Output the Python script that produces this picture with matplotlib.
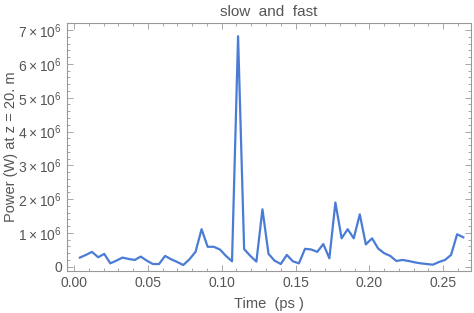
import numpy as np
import matplotlib
matplotlib.use("Agg")
import matplotlib.pyplot as plt
from matplotlib.ticker import MultipleLocator, FuncFormatter

# sampled pulse power at z = 20 m
time_ps = [0.0040, 0.0081, 0.0122, 0.0164, 0.0205, 0.0246, 0.0287, 0.0328,
           0.0370, 0.0411, 0.0452, 0.0493, 0.0534, 0.0576, 0.0617, 0.0658,
           0.0699, 0.0740, 0.0782, 0.0823, 0.0864, 0.0905, 0.0946, 0.0988,
           0.1029, 0.1070, 0.1111, 0.1152, 0.1194, 0.1235, 0.1276, 0.1317,
           0.1358, 0.1400, 0.1441, 0.1482, 0.1523, 0.1564, 0.1606, 0.1647,
           0.1688, 0.1729, 0.1770, 0.1812, 0.1853, 0.1894, 0.1935, 0.1976,
           0.2018, 0.2059, 0.2100, 0.2141, 0.2182, 0.2224, 0.2265, 0.2306,
           0.2347, 0.2388, 0.2430, 0.2471, 0.2512, 0.2553, 0.2594, 0.2636]

power_MW = [0.27, 0.35, 0.44, 0.28, 0.38, 0.10, 0.18, 0.27,
            0.23, 0.20, 0.30, 0.18, 0.08, 0.08, 0.32, 0.22,
            0.14, 0.05, 0.22, 0.44, 1.11, 0.59, 0.59, 0.51,
            0.32, 0.16, 6.82, 0.52, 0.32, 0.15, 1.70, 0.38,
            0.18, 0.08, 0.35, 0.16, 0.10, 0.53, 0.51, 0.44,
            0.67, 0.25, 1.90, 0.84, 1.11, 0.84, 1.55, 0.66,
            0.84, 0.54, 0.40, 0.32, 0.17, 0.20, 0.17, 0.13,
            0.10, 0.08, 0.06, 0.14, 0.20, 0.35, 0.96, 0.87]

power_W = np.array(power_MW) * 1e6

plt.rcParams['font.family'] = ['Liberation Sans', 'DejaVu Sans']
plt.rcParams['mathtext.default'] = 'regular'

grey = '#555555'
frame = '#999999'

fig = plt.figure(figsize=(4.74, 3.13), dpi=100)
ax = fig.add_axes([0.1414, 0.1351, 0.8523, 0.7924])

ax.plot(time_ps, power_W, color='#4A7CD6', lw=1.6)

ax.set_xlim(-0.0047, 0.2688)
ax.set_ylim(-0.118e6, 7.22e6)

ax.xaxis.set_major_locator(MultipleLocator(0.05))
ax.xaxis.set_minor_locator(MultipleLocator(0.01))
ax.yaxis.set_major_locator(MultipleLocator(1e6))
ax.yaxis.set_minor_locator(MultipleLocator(0.2e6))

ax.xaxis.set_major_formatter(FuncFormatter(lambda v, p: f"{v:.2f}"))

def ylab(v, p):
    n = int(round(v / 1e6))
    if n == 0:
        return "0"
    return r"$%d\times10^{6}$" % n

ax.yaxis.set_major_formatter(FuncFormatter(ylab))

ax.tick_params(which='both', direction='in', top=True, right=True,
               color=frame, labelcolor=grey, labelsize=10, width=0.6)
ax.tick_params(which='major', length=4)
ax.tick_params(which='minor', length=2)
for s in ax.spines.values():
    s.set_color(frame)
    s.set_linewidth(0.8)

ax.set_title("slow  and  fast", color=grey, fontsize=11, pad=5)
ax.set_xlabel("Time  (ps )", color=grey, fontsize=10.5, labelpad=5)
ax.set_ylabel("Power (W) at z = 20. m", color=grey, fontsize=10.5, labelpad=0)

fig.savefig("out.png", dpi=100)
